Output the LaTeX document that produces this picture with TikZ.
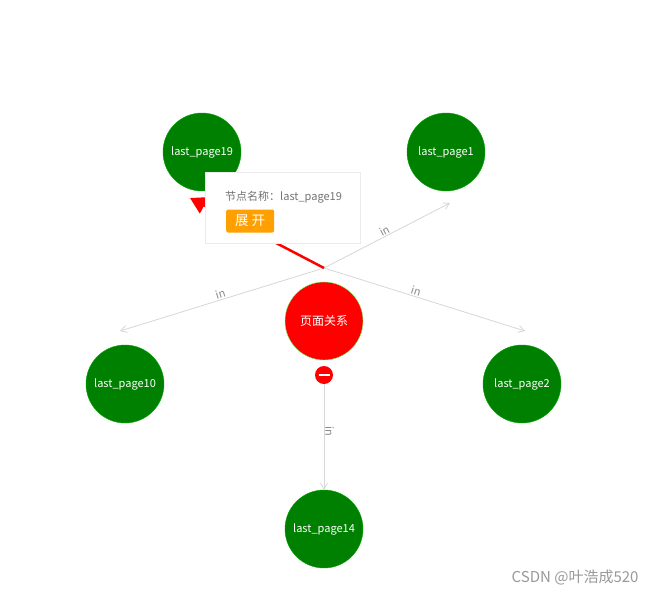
\documentclass[tikz,border=0pt]{standalone}
\usepackage{fontspec}
\setmainfont{Noto Sans CJK SC}
\usetikzlibrary{arrows.meta,shadows}
\definecolor{gnode}{RGB}{0,128,0}
\definecolor{edgec}{RGB}{215,215,215}
\definecolor{lblc}{RGB}{140,140,140}
\definecolor{btn}{RGB}{255,160,0}
\tikzset{
 pg/.style={circle,fill=gnode,draw=gnode!70!green,minimum size=78pt,inner sep=0pt,text=white,font=\fontsize{11}{12}\selectfont},
 edge/.style={draw=edgec,line width=0.8pt,-{Straight Barb[length=6pt,width=7pt]}},
 elbl/.style={text=lblc,font=\fontsize{11}{12}\selectfont,inner sep=1pt},
}
\begin{document}
\begin{tikzpicture}[x=1pt,y=-1pt]
\useasboundingbox[fill=white] (0,0) rectangle (655,594);
\coordinate (hub) at (324,268);
\coordinate (t1) at (450,203);
\coordinate (t10) at (120,331);
\coordinate (t2) at (525,331);
\coordinate (t19) at (190,198);
\node[pg] (n19) at (202,152) {last\_page19};
\node[pg] (n1) at (446,152) {last\_page1};
\node[pg] (n10) at (125,384) {last\_page10};
\node[pg] (n2) at (522,384) {last\_page2};
\node[pg] (n14) at (324,529) {last\_page14};
\node[pg,fill=red,draw=green!60,font=\fontsize{12}{13}\selectfont] (c) at (324,321) {页面关系};
\node[circle,fill=red,minimum size=18pt,inner sep=0pt] (m) at (324,375) {};
\draw[white,line width=2pt] ([xshift=-5.5pt]m.center) -- ([xshift=5.5pt]m.center);
\draw[edge] (hub) -- node[elbl,sloped,above,pos=0.5]{in} (t1);
\draw[edge] (hub) -- node[elbl,sloped,above,pos=0.5]{in} (t10);
\draw[edge] (hub) -- node[elbl,sloped,above,pos=0.45]{in} (t2);
\draw[edge] (m) -- node[elbl,sloped,above,pos=0.45]{in} (n14.north);
\draw[red,line width=2.5pt,-{Triangle[length=16pt,width=18pt]}] (hub) -- (t19);
\node[draw=black!8,fill=white,drop shadow={opacity=0.15,shadow xshift=0pt,shadow yshift=0pt},minimum width=155pt,minimum height=71pt,anchor=north west,inner sep=0pt] (tip) at (205,172) {};
\node[anchor=west,text=black!55,font=\fontsize{11}{12}\selectfont,inner sep=0pt] (tl) at (225,197) {节点名称：last\_page19};
\node[anchor=west,fill=btn,rounded corners=2pt,text=white,font=\fontsize{13.5}{15}\selectfont,minimum width=48pt,minimum height=23pt,inner sep=0pt] (b) at (226,221) {展 开};
\node[text=black!40,font=\fontsize{15}{17}\selectfont,anchor=east] (wm) at (642,577) {CSDN @叶浩成520};
\end{tikzpicture}
\end{document}
